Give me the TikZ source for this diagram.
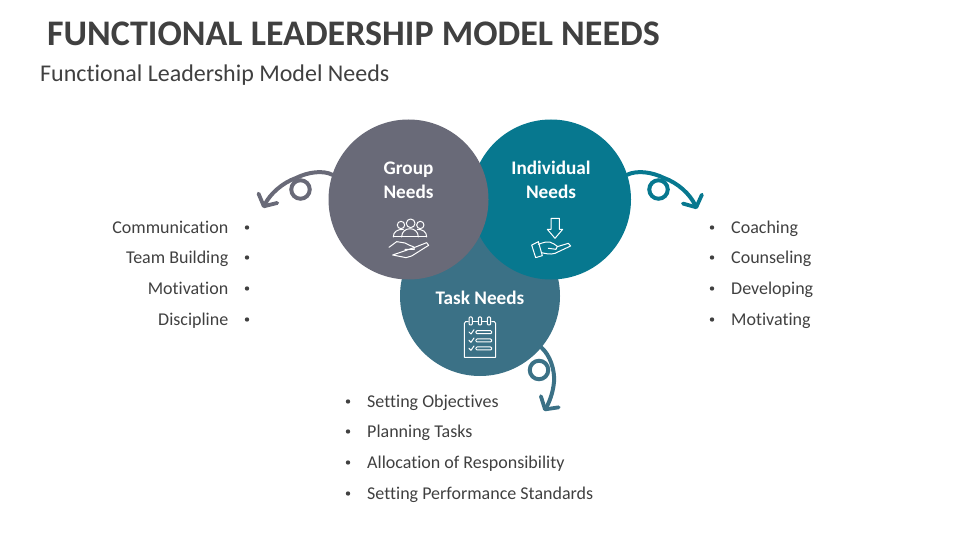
\documentclass[tikz,border=0pt]{standalone}
\usepackage{fontspec}
\setmainfont[RawFeature=-liga]{Carlito}
\usetikzlibrary{arrows.meta}
\definecolor{grpc}{HTML}{696A78}
\definecolor{indc}{HTML}{07788F}
\definecolor{tskc}{HTML}{3B7186}
\definecolor{txtc}{HTML}{404040}
\tikzset{
  x=1pt,y=-1pt,
  bubble/.style={circle,minimum size=160pt,inner sep=0pt,outer sep=0pt},
  headtext/.style={text=white,font=\fontsize{19.2}{23}\selectfont\bfseries,align=center,anchor=center,inner sep=0pt},
  itemtext/.style={text=txtc,font=\fontsize{18}{21}\selectfont,inner sep=0pt},
  itemL/.style={itemtext,anchor=base east},
  itemR/.style={itemtext,anchor=base west},
  dotmark/.style={circle,fill=txtc,minimum size=4.4pt,inner sep=0pt},
  swirl/.style={line width=4pt,line cap=round,-{Straight Barb[length=9pt,width=21pt,line width=3.8pt,round]}},
  ring/.style={circle,draw,line width=4pt,minimum size=18.5pt,inner sep=0pt},
  icon/.style={draw=white,line width=1pt,line join=round,line cap=round,fill=none},
  zoomed/.style={x=0.3333pt,y=-0.3333pt},
}
\begin{document}
\begin{tikzpicture}
\useasboundingbox (0,0) rectangle (960,540);
\node[anchor=base west,inner sep=0pt,text=txtc,font=\fontsize{36}{42}\selectfont\bfseries] (title) at (47,46) {FUNCTIONAL LEADERSHIP MODEL NEEDS};
\node[anchor=base west,inner sep=0pt,text=txtc,font=\fontsize{24}{28}\selectfont] (subtitle) at (40,82) {Functional Leadership Model Needs};

% circles
\node[bubble,fill=tskc] (task) at (480,296) {};
\node[bubble,fill=indc] (indiv) at (551,199.5) {};
\node[bubble,fill=grpc] (group) at (408.5,199.5) {};

\node[headtext] (grouplbl) at (408.5,180) {Group\\[1pt]Needs};
\node[headtext] (indivlbl) at (551,180) {Individual\\[1pt]Needs};
\node[headtext] (tasklbl) at (480,297.5) {Task Needs};

% connectors
\coordinate (gend) at (263,208);
\coordinate (iend) at (697,209);
\coordinate (tend) at (544,411);
\node[ring,draw=grpc] (gring) at (300.5,189.5) {};
\node[ring,draw=indc] (iring) at (658.5,189.5) {};
\node[ring,draw=tskc] (tring) at (539,370) {};
\draw[swirl,draw=grpc] (group.162) .. controls (323,170) and (308,172) .. (296,178) .. controls (282,183) and (270,194) .. (gend);
\draw[swirl,draw=indc] (indiv.18) .. controls (637,170) and (652,172) .. (664,178) .. controls (678,183) and (690,194) .. (iend);
\draw[swirl,draw=tskc] (task.-40) .. controls (550,355) and (555,370) .. (554,382) .. controls (553,393) and (549,403) .. (tend);

% group icon
\begin{scope}[shift={(240pt,-110pt)},zoomed]
  \draw[icon] (483,345) circle (11);
  \draw[icon] (512,340) circle (13);
  \draw[icon] (541,345) circle (11);
  \draw[icon] (460,381) -- (560,381);
  \draw[icon] (460,381) .. controls (460,365) and (472,358) .. (490,358);
  \draw[icon] (560,381) .. controls (560,365) and (548,358) .. (532,358);
  \draw[icon] (485,381) .. controls (485,348) and (535,348) .. (535,381);
  \draw[icon] (447,412) -- (470,395) -- (495,399) .. controls (505,404) and (512,408) .. (522,411) -- (523,418) -- (495,418);
  \draw[icon] (522,413) -- (560,398) -- (566,406) -- (515,438) -- (498,443) -- (458,435) -- cycle;
\end{scope}

% individual icon
\begin{scope}[shift={(470pt,-110pt)},zoomed]
  \draw[icon] (243,325) -- (268,325) -- (268,358) -- (278,358) -- (255,385) -- (232,358) -- (243,358) -- cycle;
  \draw[icon] (185,405) -- (205,395) -- (217,437) -- (197,443) -- cycle;
  \draw[icon] (205,403) .. controls (220,398) and (235,390) .. (252,402) -- (262,409) -- (258,418) -- (235,415);
  \draw[icon] (262,410) -- (295,400) -- (302,408) -- (255,430) .. controls (240,435) and (225,430) .. (214,428);
\end{scope}

% task icon
\begin{scope}[shift={(400pt,-270pt)},zoomed]
  \draw[icon] (205,155) -- (197,155) -- (193,160) -- (193,262) -- (287,262) -- (287,160) -- (283,155) -- (275,155);
  \draw[icon] (219,155) -- (233,155) (247,155) -- (260,155);
  \foreach \a in {212,240,267} \draw[icon,rounded corners=1pt] (\a-5,141) rectangle (\a+5,165);
  \foreach \b in {186,211,235} {
    \draw[icon] (207,\b) -- (213,\b+6) -- (222,\b-7);
    \draw[icon,rounded corners=1pt] (228,\b-4) rectangle (275,\b+5);
  }
\end{scope}

% left list
\foreach \n/\y/\t in {la/233/Communication,lb/263/Team Building,lc/294/Motivation,ld/325/Discipline}{
  \node[itemL] (\n) at (228.5,\y) {\t};
  \node[dotmark] (\n dot) at (247,\y-5.5) {};
}
% right list
\foreach \n/\y/\t in {ra/233/Coaching,rb/263/Counseling,rc/294/Developing,rd/325/Motivating}{
  \node[itemR] (\n) at (731,\y) {\t};
  \node[dotmark] (\n dot) at (712,\y-5.5) {};
}
% bottom list
\foreach \n/\y/\t in {ba/407/Setting Objectives,bb/437/Planning Tasks,bc/468/Allocation of Responsibility,bd/499/Setting Performance Standards}{
  \node[itemR] (\n) at (367,\y) {\t};
  \node[dotmark] (\n dot) at (348,\y-5.5) {};
}
\end{tikzpicture}
\end{document}
